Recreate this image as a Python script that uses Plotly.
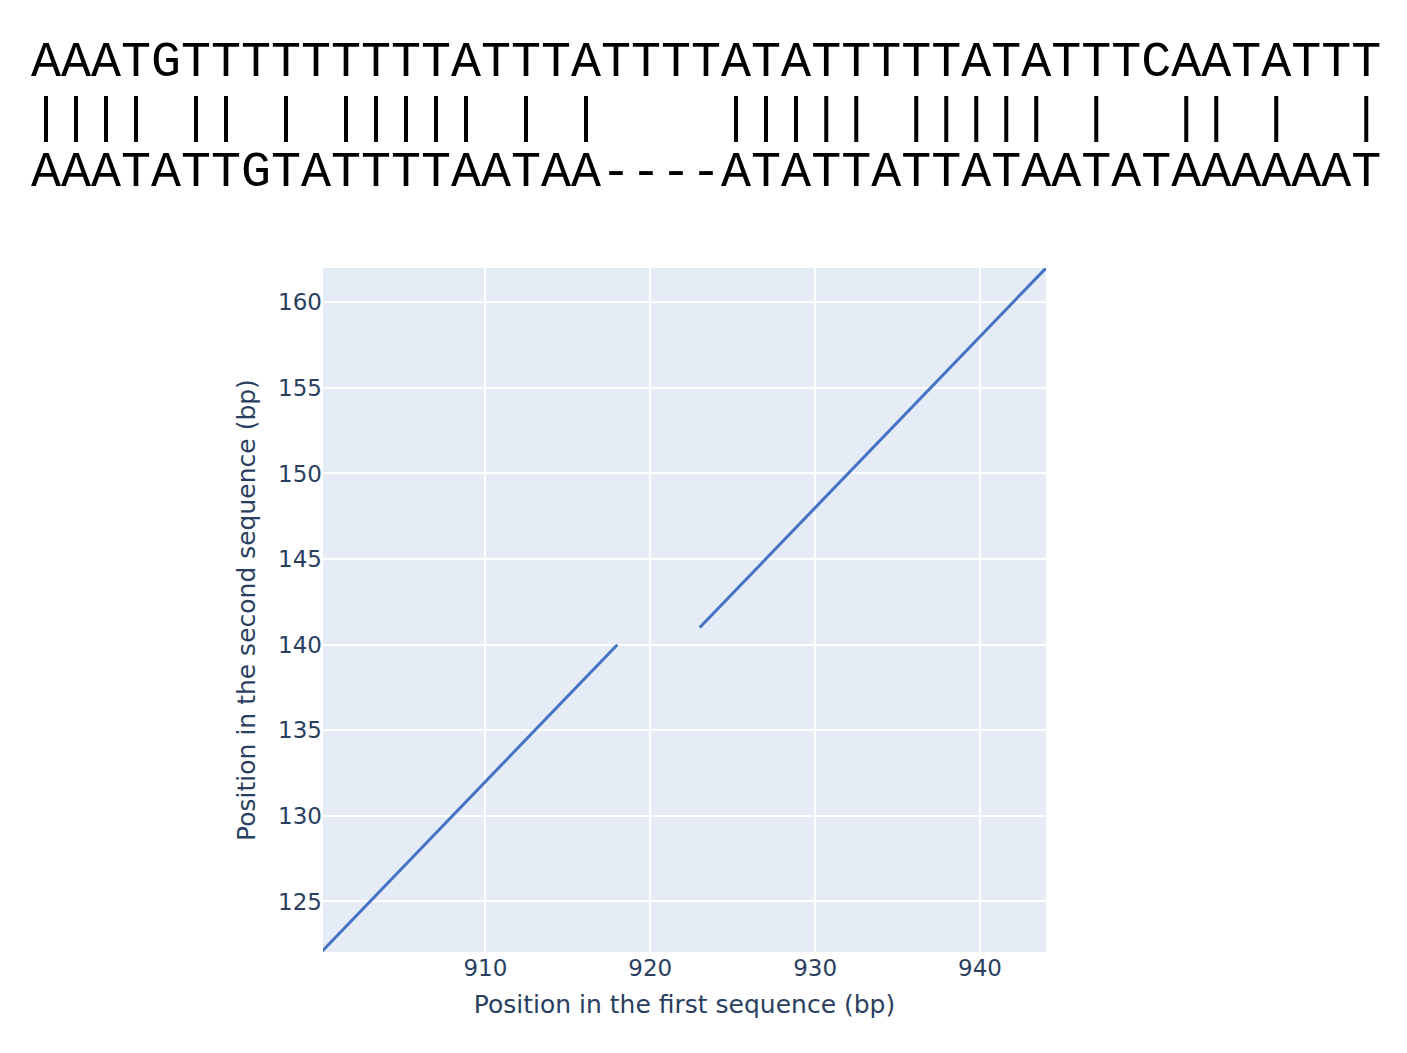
import plotly.graph_objects as go

seq1 = "AAATGTTTTTTTTTATTTATTTTATATTTTTATATTTCAATATTT"
seq2 = "AAATATTGTATTTTAATAA----ATATTATTATAATATAAAAAAT"
x_start, y_start = 900, 122

match = "".join("|" if a == b and a != "-" else " " for a, b in zip(seq1, seq2))

xs, ys = [], []
xi, yi = x_start, y_start
prev_gap = False
for a, b in zip(seq1, seq2):
    if b == "-":
        if not prev_gap:
            xs.append(None); ys.append(None)
        prev_gap = True
        xi += 1
        continue
    prev_gap = False
    xs.append(xi); ys.append(yi)
    xi += 1; yi += 1

fig = go.Figure(go.Scatter(x=xs, y=ys, mode="lines", line=dict(color="#4472c4", width=3),
                           showlegend=False))

mono = dict(family="Courier New, Liberation Mono, monospace", size=50, color="black")
for txt, yp in [(seq1, 1.301), (match.replace(" ", "&nbsp;"), 1.219), (seq2, 1.139)]:
    fig.add_annotation(text=txt, x=0.53, y=yp, xref="paper", yref="paper",
                       showarrow=False, xanchor="center", yanchor="middle", font=mono)

fig.update_layout(
    width=1407, height=1053,
    margin=dict(l=315, r=369, t=260, b=109),
    font=dict(family="DejaVu Sans, Verdana, sans-serif", color="#2a3f5f"),
    plot_bgcolor="#e5ecf6",
    paper_bgcolor="white",
)
fig.update_xaxes(range=[900.15, 944], dtick=10, tickfont=dict(size=23),
                 title=dict(text="Position in the first sequence (bp)", font=dict(size=25)),
                 gridcolor="white", gridwidth=2, zeroline=False)
fig.update_yaxes(range=[122.05, 162], dtick=5, tickfont=dict(size=23),
                 title=dict(text="Position in the second sequence (bp)", font=dict(size=25)),
                 gridcolor="white", gridwidth=2, zeroline=False)
fig.write_html("out.html")
